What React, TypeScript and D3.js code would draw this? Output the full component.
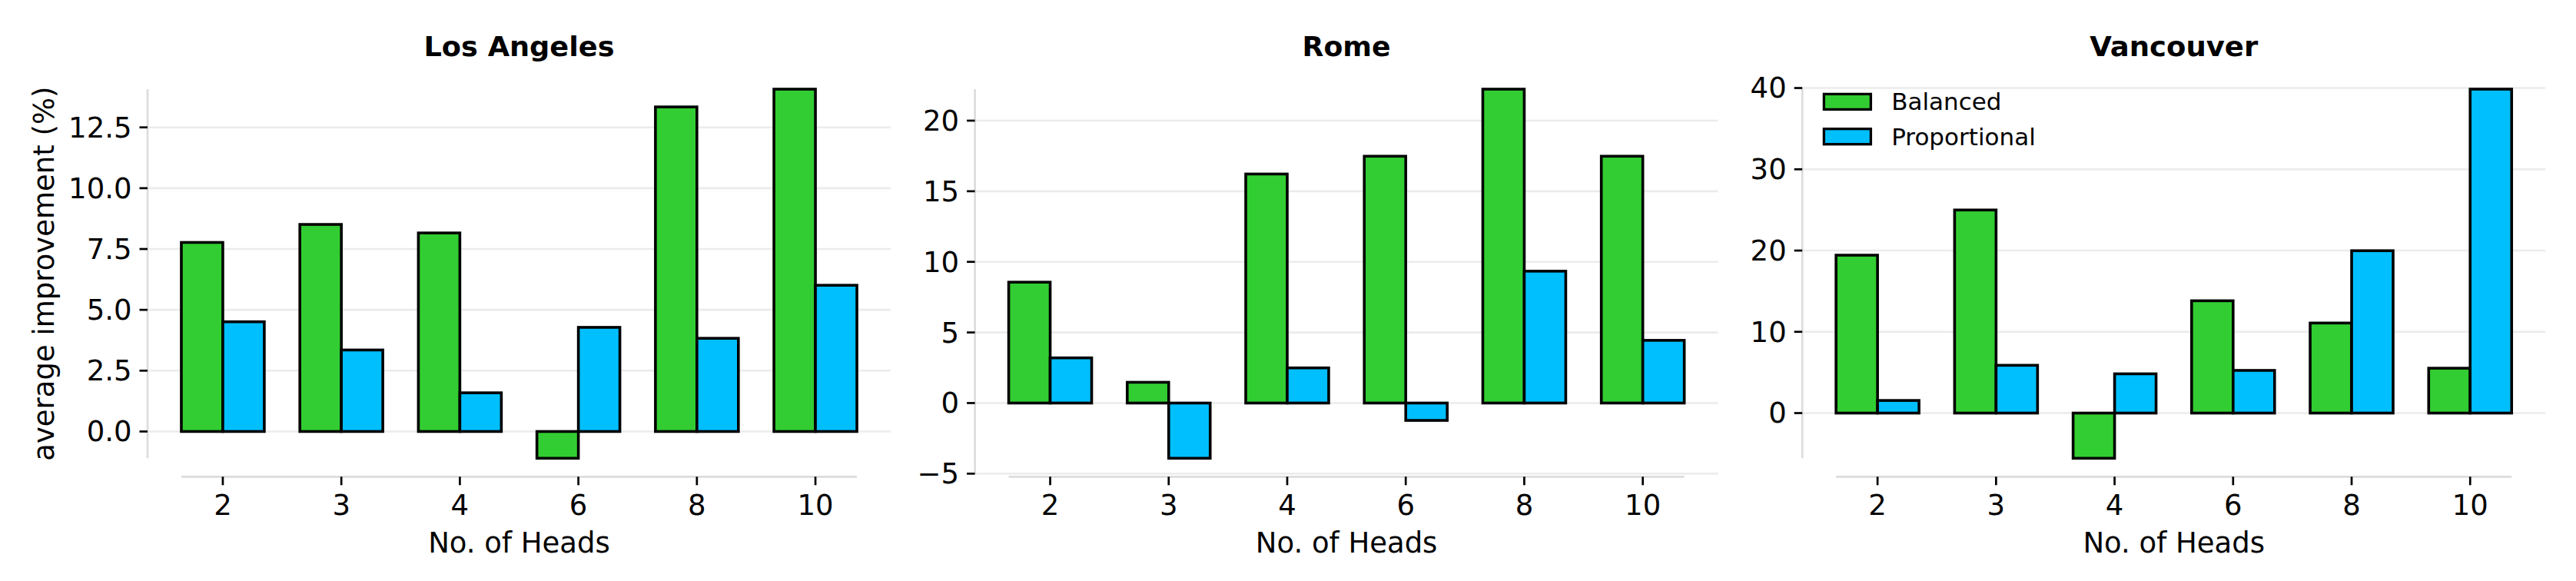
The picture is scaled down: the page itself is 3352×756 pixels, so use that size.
import React from 'react';
import * as d3 from 'd3';

const heads = ['2', '3', '4', '6', '8', '10'];
const cities = ['Los Angeles', 'Rome', 'Vancouver'];
const seriesNames = ['Balanced', 'Proportional'];
const colors = ['#32CD32', '#00BFFF'];

const balancedLA = [7.77, 8.51, 8.16, -1.1, 13.34, 14.07];
const proportionalLA = [4.51, 3.35, 1.59, 4.28, 3.83, 6.01];
const balancedRome = [8.56, 1.47, 16.22, 17.48, 22.23, 17.48];
const proportionalRome = [3.2, -3.91, 2.49, -1.23, 9.34, 4.44];
const balancedVan = [19.43, 24.99, -5.56, 13.82, 11.08, 5.52];
const proportionalVan = [1.55, 5.88, 4.83, 5.25, 19.98, 39.86];

const yTicksLA = [0, 2.5, 5, 7.5, 10, 12.5];
const yTicksRome = [-5, 0, 5, 10, 15, 20];
const yTicksVan = [0, 10, 20, 30, 40];
const yFormats = ['.1f', 'd', 'd'];

const panels = [
  { title: cities[0], series: [balancedLA, proportionalLA], ticks: yTicksLA, fmt: yFormats[0], titleLen: 248 },
  { title: cities[1], series: [balancedRome, proportionalRome], ticks: yTicksRome, fmt: yFormats[1], titleLen: 115 },
  { title: cities[2], series: [balancedVan, proportionalVan], ticks: yTicksVan, fmt: yFormats[2], titleLen: 219 },
];

const W = 3352;
const H = 756;
const left0 = 192;
const panelW = 967;
const step = 1076.6;
const top = 92;
const bottom = 620.3;
const barW = 0.35;
const font = 'DejaVu Sans, sans-serif';
const gridColor = '#ebebeb';
const spineColor = '#dcdcdc';

function Panel({ p, idx }: { p: typeof panels[0]; idx: number }) {
  const left = left0 + idx * step;
  const n = heads.length;
  const xMin = -barW, xMax = n - 1 + barW;
  const xPad = (xMax - xMin) * 0.05;
  const x = d3.scaleLinear().domain([xMin - xPad, xMax + xPad]).range([left, left + panelW]);

  const all = [0, ...p.series[0], ...p.series[1]];
  const [dMin, dMax] = d3.extent(all) as [number, number];
  const yPad = (dMax - dMin) * 0.05;
  const y = d3.scaleLinear().domain([dMin - yPad, dMax + yPad]).range([bottom, top]);
  const visTicks = p.ticks.filter(t => t >= y.domain()[0] && t <= y.domain()[1]);
  const spLo = Math.min(dMin, d3.min(visTicks)!);
  const spHi = Math.max(dMax, d3.max(visTicks)!);
  const fmt = d3.format(p.fmt);
  const cx = left + panelW / 2;

  return (
    <g>
      {visTicks.map(t => (
        <line key={'g' + t} x1={left} x2={left + panelW} y1={y(t)} y2={y(t)} stroke={gridColor} strokeWidth={2.6} />
      ))}
      <line x1={left} x2={left} y1={y(spLo)} y2={y(spHi)} stroke={spineColor} strokeWidth={2.7} />
      <line x1={x(xMin)} x2={x(xMax)} y1={bottom} y2={bottom} stroke={spineColor} strokeWidth={2.7} />
      {p.series.map((vals, s) =>
        vals.map((v, i) => {
          const x0 = i - barW + s * barW;
          return (
            <rect key={s + '-' + i} x={x(x0)} width={x(x0 + barW) - x(x0)}
              y={Math.min(y(v), y(0))} height={Math.abs(y(v) - y(0))}
              fill={colors[s]} stroke="#000" strokeWidth={3.6} />
          );
        })
      )}
      {visTicks.map(t => (
        <g key={'t' + t}>
          <line x1={left - 10.5} x2={left} y1={y(t)} y2={y(t)} stroke="#000" strokeWidth={2.7} />
          <text x={left - 20.5} y={y(t)} dy="0.35em" textAnchor="end" fontSize={37} fontFamily={font}>{fmt(t)}</text>
        </g>
      ))}
      {heads.map((h, i) => (
        <g key={'x' + h}>
          <line x1={x(i)} x2={x(i)} y1={bottom} y2={bottom + 11} stroke="#000" strokeWidth={2.7} />
          <text x={x(i)} y={670} textAnchor="middle" fontSize={37} fontFamily={font}>{h}</text>
        </g>
      ))}
      <text x={cx} y={719} textAnchor="middle" fontSize={37} fontFamily={font}>No. of Heads</text>
      <text x={cx} y={73.3} textAnchor="middle" fontSize={36} fontWeight="bold" fontFamily={font}
        textLength={p.titleLen} lengthAdjust="spacingAndGlyphs">{p.title}</text>
      {idx === 0 && (
        <text transform={`translate(70,${(top + bottom) / 2}) rotate(-90)`} textAnchor="middle" fontSize={37} fontFamily={font}>
          average improvement (%)
        </text>
      )}
      {idx === 2 && seriesNames.map((name, s) => (
        <g key={name}>
          <rect x={left + 28.2} y={122.4 + s * 45.3} width={61} height={20} fill={colors[s]} stroke="#000" strokeWidth={3.3} />
          <text x={left + 116} y={143.3 + s * 45.6} fontSize={31} fontFamily={font}>{name}</text>
        </g>
      ))}
    </g>
  );
}

export default function App() {
  return (
    <svg width={W} height={H} style={{ position: 'absolute', left: 0, top: 0, background: '#fff' }}>
      <rect width={W} height={H} fill="#fff" />
      {panels.map((p, i) => <Panel key={p.title} p={p} idx={i} />)}
    </svg>
  );
}
